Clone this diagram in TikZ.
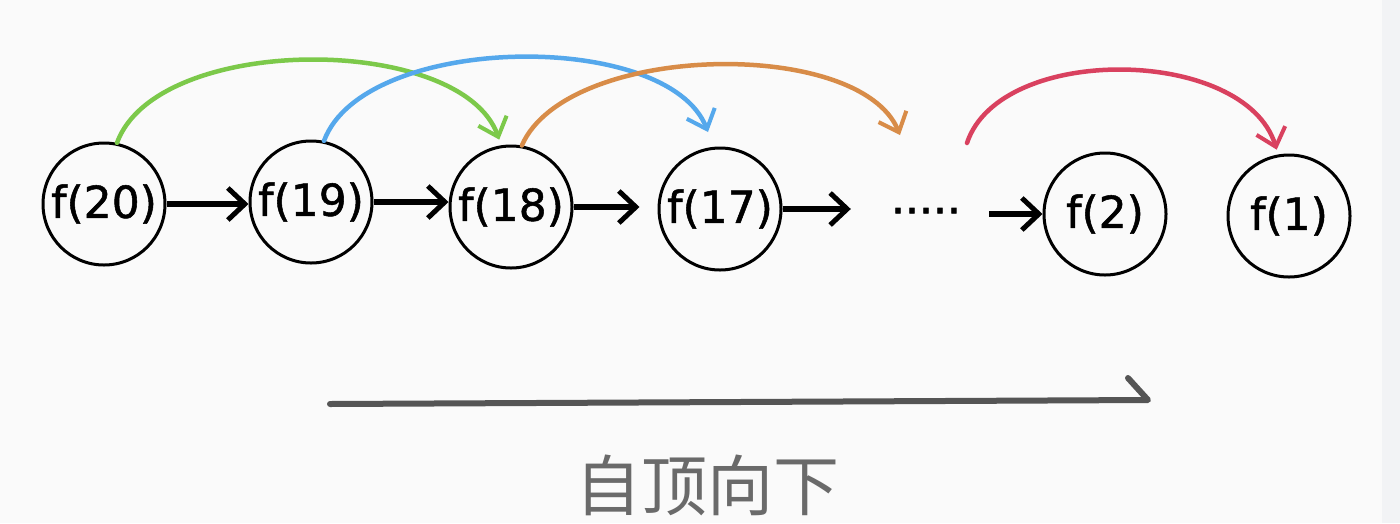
\documentclass[tikz,border=0pt]{standalone}
\usepackage{fontspec}
\setmainfont{DejaVu Sans}
\newfontfamily\nodefont[FakeBold=1.2]{DejaVu Sans}
\newfontfamily\cjk{Noto Sans CJK SC}
\usetikzlibrary{arrows.meta}
\definecolor{bgpaper}{HTML}{FAFAFA}
\definecolor{bgstrip}{HTML}{F2F3F5}
\definecolor{arcgreen}{HTML}{7CC94A}
\definecolor{arcblue}{HTML}{55A8EC}
\definecolor{arcorange}{HTML}{D88C48}
\definecolor{arcred}{HTML}{D9415F}
\definecolor{dirgray}{HTML}{555555}
\definecolor{textgray}{HTML}{6A6A6A}
\tikzset{
  fnode/.style={circle, draw=black, line width=3pt, minimum size=122pt, inner sep=0pt,
    font=\nodefont\fontsize{44}{48}\selectfont},
  chain/.style={line width=6pt, -{Straight Barb[length=17pt,width=32pt,line width=5pt]}},
  arc/.style={line width=4.5pt, line cap=round, -{Straight Barb[length=17pt,width=30pt,line width=4pt]}},
}
\begin{document}
\begin{tikzpicture}[x=1pt,y=-1pt]
\fill[bgpaper] (0,0) rectangle (1400,523);
\fill[bgstrip] (1382,0) rectangle (1400,523);
\useasboundingbox (0,0) rectangle (1400,523);

\node[fnode] (n20) at (104,204) {f(20)};
\node[fnode] (n19) at (311,202) {f(19)};
\node[fnode] (n18) at (511,207) {f(18)};
\node[fnode] (n17) at (720,209) {f(17)};
\node[fnode] (n2) at (1105,214) {f(2)};
\node[fnode] (n1) at (1289,216) {f(1)};
\node[font=\nodefont\fontsize{44}{48}\selectfont, inner sep=0pt, minimum width=90pt] (dots) at (926,217) {·····};

\draw[chain] (n20.east) -- (n19.west |- n20.east);
\draw[chain] (n19.east) -- (n18.west |- n19.east);
\draw[chain, shorten >=18pt] (n18.east) -- (n17.west |- n18.east);
\draw[chain, shorten >=30pt] (n17.east) -- (dots.west |- n17.east);
\draw[chain, shorten <=18pt] (dots.east |- n2.west) -- (n2.west);

\coordinate (oend) at (900,135);
\coordinate (rstart) at (967,143);

\draw[arc, arcgreen, shorten >=6pt] (n20.78) .. controls +(40,-110) and +(-40,-112) .. (n18.99);
\draw[arc, arcblue] (n19.78) .. controls +(40,-108) and +(-40,-103) .. (708,132);
\draw[arc, arcorange] (n18.80) .. controls +(45,-103) and +(-40,-98) .. (oend);
\draw[arc, arcred, shorten >=5pt] (rstart) .. controls +(33,-100) and +(-33,-108) .. (n1.100);

\coordinate (bl) at (330,404);
\coordinate (br) at (1148,400);
\coordinate (bh) at (1128,378);
\draw[dirgray, line width=6pt, line cap=round, line join=round] (bl) -- (br) -- (bh);

\node[text=textgray, font=\cjk\fontsize{66}{70}\selectfont, inner sep=0pt] (lab) at (707,485) {自顶向下};
\end{tikzpicture}
\end{document}
